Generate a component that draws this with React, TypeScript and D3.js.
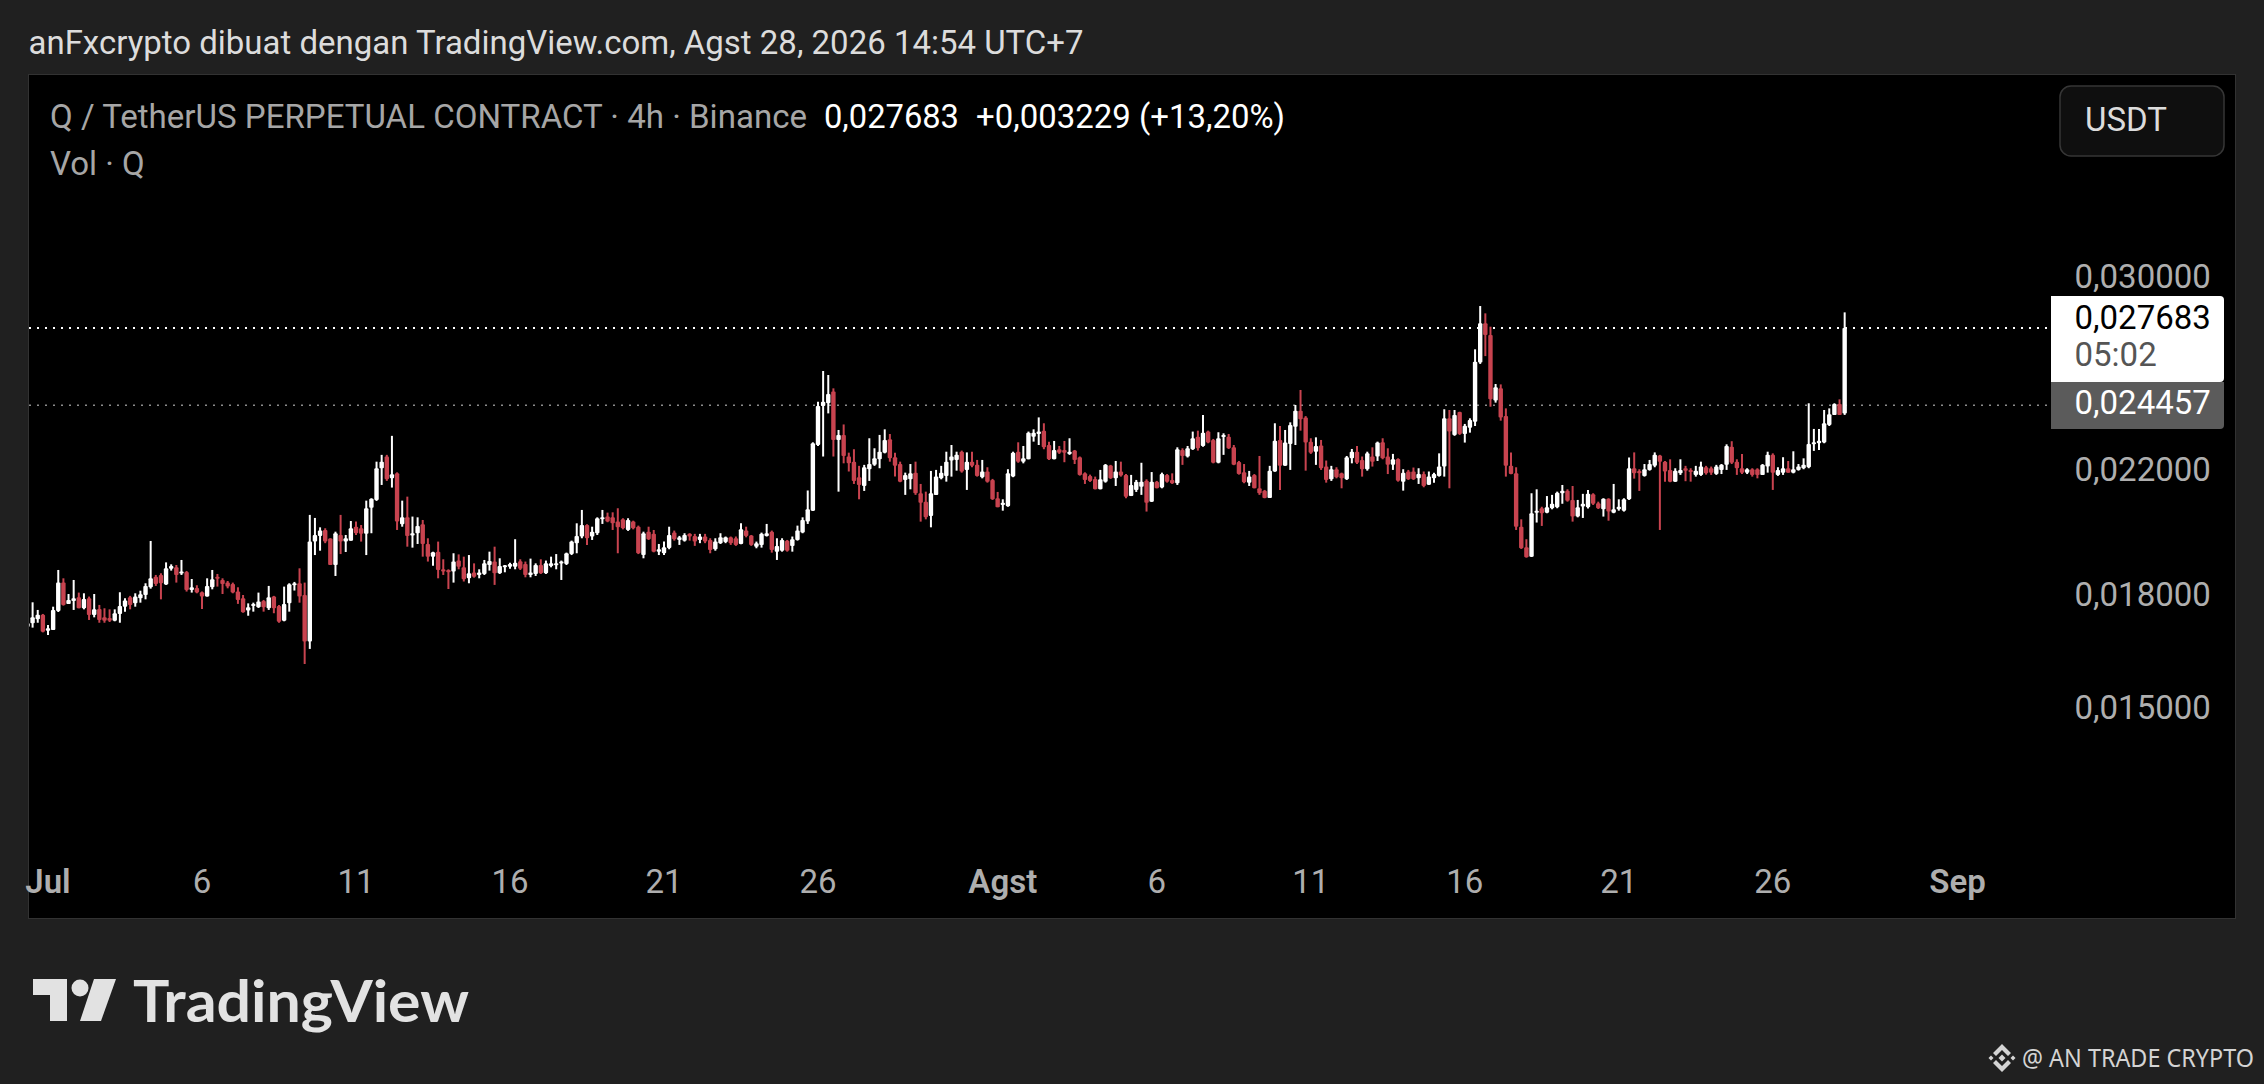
import React from "react";
import * as d3 from "d3";

// Prices are in millionths of a USDT; index 0 of each list is 4 candles before 1 July 00:00.
const PRICE_UNIT = 1e-6;
const FIRST_CANDLE_OFFSET = -4;
const CANDLES_PER_DAY = 6;

const directions =
  "UUUDUUUDUU" + "DUDUDDDUUU" + "DUUUUDDUUD" + "UDUDDUUDDD" + "DDDUUUDUDD" + "UUUDDUUUDD" + "UDUUDDUUUU" +
  "DUDUDUUDDU" + "DDDUDDUDUU" + "UDUUUUDDUU" + "DUUUUUUUUD" + "UUUDDDDUDD" + "UDDUUUDUUD" + "DUDDUUUDDU" +
  "DDUUUDUUDU" + "UUUUUUUDUD" + "DDDUUUUUDD" + "DUUDDDUUUU" + "UUDUDDUDDD" + "UUUDUUUUDD" + "UDDUDDDDDU" +
  "UDUDDUUUDU" + "DUDDUDUUDU" + "DDUUDDDDUD" + "DDUUDUUUDD" + "DUDDUDDUUD" + "DUDUDDUDUD" + "DUDUUUUDUD" +
  "UUUUDDUDDD" + "DDDUUDUUUU" + "DDUUUDDUDU" + "UUUDDUUUDD" + "DUUDDUUDDU" + "UUDDDUDDUU" + "DUUDUUUUUU" + "UUUDU";

const highs = [
  17280,17825,17608,17495,17190,17700,18775,18525,18065,18476,
  18105,18085,17990,18065,17750,17655,17625,17625,18115,17940,
  18010,18085,18160,18378,19670,18625,18675,19005,18945,18925,
  19079,18745,18505,18320,18135,18525,18775,18655,18525,18445,
  18398,18260,18035,17795,17815,18105,17893,18300,18010,17750,
  18280,18378,18418,18825,18398,20510,20410,20105,20075,19755,
  19965,20510,19860,20310,20290,20180,20985,21065,22340,22585,
  22585,23285,21960,20985,21120,20455,20430,20344,19755,19335,
  19650,19100,18795,19285,19250,19180,19230,18975,18795,19079,
  19335,19490,19130,18925,18995,19725,19100,19030,19120,18975,
  19100,19060,19180,19260,19060,19305,19680,20235,20674,20205,
  20125,20430,20674,20585,20595,20730,20400,20400,20320,20160,
  19965,20125,20020,19575,19650,20125,20000,19830,19915,19915,
  19895,19895,19895,19755,19755,19915,19810,19810,19810,20235,
  20125,19860,19650,19935,20215,20000,19755,19755,19702,19810,
  20160,20430,21330,23045,24600,25840,25675,25130,23506,23715,
  22665,22790,22190,22225,23195,22825,23320,23530,23355,22665,
  22340,21950,22255,22340,21555,21290,22010,22046,22190,22700,
  22945,22700,22740,22675,22700,22402,22402,22140,21730,21280,
  21030,22070,22700,23045,22910,23445,23530,23985,23760,23070,
  23095,22910,23095,23195,22764,22525,21960,21880,21810,22046,
  22255,22225,22365,22340,21900,21870,21694,22300,21715,21970,
  21660,21950,21900,21925,22860,22825,22910,23445,23480,24080,
  23480,23170,23420,23380,23355,22945,22365,22255,22010,21900,
  22545,21349,22190,23760,23660,23506,23795,24470,25065,24035,
  23195,23230,23132,22380,22190,22140,21950,22545,22800,22910,
  22525,22700,22860,23070,23195,22825,22620,22460,22070,22046,
  22130,22105,21990,21990,21950,22640,24300,24272,24272,24205,
  23735,23950,26755,28680,28345,27745,25305,25290,24335,22675,
  22140,20365,19725,21235,21370,20780,21140,21180,21290,21520,
  21370,21485,21009,21215,21349,21235,20950,21065,21065,21555,
  21030,21065,22490,22675,22070,22255,22402,22675,22585,22365,
  22425,22105,22425,22190,22105,22190,22340,22190,22165,22225,
  22255,22970,23085,22425,22620,22105,22105,22105,22255,22700,
  22640,22140,22500,22365,22715,22255,22460,24535,23545,23545,
  24272,24335,24535,24690,28390,
];

const bodyTops = [
  17235,17400,17475,17475,17095,17608,18398,18398,17893,17940,
  17970,17920,17940,17625,17635,17400,17380,17515,17720,17875,
  17970,17990,18055,18300,18525,18575,18625,18825,18895,18855,
  18725,18715,18260,18240,18115,18300,18495,18575,18476,18398,
  18360,18135,17940,17685,17780,17845,17865,17970,17990,17720,
  17780,18350,18378,18378,18035,19650,19860,20000,20020,19745,
  19915,19860,19755,20075,20125,20075,20730,21045,22105,22340,
  22525,21890,21925,20430,20430,19915,20150,20205,19575,19315,
  19335,18795,18775,19030,19060,18855,18675,18695,18695,18975,
  19050,19030,18895,18915,18955,18995,19040,18955,18695,18925,
  18925,18975,18975,18975,19030,19285,19650,19830,20180,20180,
  19965,20400,20430,20455,20430,20290,20365,20344,20290,20125,
  19915,19965,19895,19410,19470,19860,19935,19785,19860,19895,
  19830,19810,19810,19702,19650,19785,19785,19785,19755,20040,
  20000,19840,19600,19895,19915,19965,19515,19702,19680,19725,
  20000,20344,20695,23010,24430,24600,24905,25000,23320,23320,
  22525,22340,21790,22140,22255,22460,22700,23132,23155,22500,
  22255,21870,21925,21950,21235,20950,21235,21810,21950,22340,
  22525,22585,22700,22340,22340,22225,21990,21990,21694,21065,
  20915,21925,22665,22700,22460,23405,23405,23445,23480,22945,
  22764,22790,22764,22700,22740,22500,21925,21835,21730,21715,
  22225,22200,21990,21990,21870,21520,21635,21635,21670,21635,
  21635,21900,21870,21694,22790,22764,22825,23195,23255,23405,
  23445,23132,23195,23320,23255,22860,22330,21960,21810,21870,
  21405,21325,22020,23105,23132,23035,23695,24245,24245,23985,
  23070,22910,22925,22165,22070,22070,21925,22500,22700,22700,
  22402,22640,22525,23035,23045,22525,22425,22440,21950,21990,
  21990,21900,21900,21810,21900,22165,23950,23950,24080,24190,
  23670,23886,26230,27895,27895,27380,25170,25130,24035,22190,
  21925,20125,19470,20565,20650,20730,20765,20880,21255,21325,
  21325,21009,20765,20880,21215,21200,20895,21045,21045,20695,
  20780,21030,22105,22105,22010,22070,22255,22585,22560,22340,
  22046,22020,22046,22105,22046,22020,22165,22140,22105,22165,
  22225,22910,22885,22340,22105,22070,22070,22070,22225,22585,
  22585,22046,22105,22105,22070,22165,22225,22985,23045,23105,
  23760,24110,24510,24510,27683,
];

const bodyBottoms = [
  17140,17235,17345,17005,17030,17050,17580,17750,17780,17865,
  17655,17655,17465,17465,17327,17308,17308,17308,17495,17700,
  17750,17795,17940,18035,18260,18360,18378,18340,18815,18625,
  18675,18182,18182,18105,17990,17990,18260,18525,18360,18280,
  18105,17893,17540,17590,17720,17685,17685,17655,17655,17280,
  17308,17795,18350,17990,16735,16735,19650,19830,19650,18925,
  18925,19650,19650,19680,19915,19895,19895,20750,21009,22105,
  21715,21750,20290,20205,19830,19840,19915,19575,19180,19180,
  18775,18725,18705,18725,18875,18495,18525,18575,18625,18655,
  18925,18675,18675,18875,18875,18875,18815,18625,18625,18655,
  18675,18675,18895,18915,18975,18955,19260,19600,19810,19755,
  19810,19915,20365,20290,20235,20105,20075,20020,20075,19285,
  19230,19725,19335,19335,19285,19450,19725,19702,19680,19810,
  19650,19702,19650,19388,19410,19600,19640,19600,19545,19575,
  19830,19545,19490,19545,19830,19388,19335,19365,19365,19515,
  19702,19935,20290,20650,22945,24430,24535,23132,23132,22545,
  22280,21660,21520,21485,22070,22225,22425,22665,22460,22190,
  21635,21694,21715,21235,20915,20430,20475,21180,21750,21835,
  22380,22402,21990,22046,22190,21835,21790,21635,21030,20765,
  20835,20800,21810,22340,22340,22425,23255,23355,22860,22425,
  22425,22665,22665,22620,22402,21870,21694,21660,21370,21370,
  21635,21750,21750,21845,21120,21140,21349,21460,20915,20950,
  21405,21430,21635,21580,21580,22545,22525,22790,22825,22910,
  23035,22300,22300,23285,22825,22225,21900,21615,21600,21405,
  21235,21075,21075,21990,22190,22190,22985,23630,23910,23035,
  22665,22700,22105,21694,21715,21790,21750,21715,22460,22300,
  22070,22070,22340,22525,22460,22225,22225,21670,21635,21715,
  21715,21750,21485,21530,21750,21835,22165,23445,23320,23355,
  23355,23590,23820,26190,27380,24690,24640,23985,22190,21900,
  20125,19440,19160,19180,20585,20565,20585,20730,20765,21235,
  20985,20455,20455,20790,20765,20880,20730,20695,20620,20585,
  20695,20650,21030,21925,21925,21835,22046,22190,22340,21990,
  21635,21635,21925,22020,21990,21870,21870,21925,21950,21900,
  22046,22225,22300,22105,21950,21950,21870,21870,21870,22165,
  21950,21870,21950,21950,21950,22046,22105,22140,23010,23010,
  23035,23695,24080,24080,24140,
];

const lows = [
  17005,17115,17250,16985,16915,17050,17550,17730,17780,17608,
  17655,17625,17327,17400,17250,17250,17270,17290,17250,17560,
  17625,17700,17815,17910,18220,18300,17910,18330,18755,18398,
  18625,18135,18105,18085,17635,17990,18200,18280,18065,18230,
  18085,17780,17530,17445,17560,17665,17560,17608,17515,17250,
  17290,17560,18165,17815,16145,16540,19230,19365,19600,18925,
  18595,19260,19325,19680,19860,19650,19230,19915,20975,21520,
  21660,21430,20020,20125,19490,19460,19575,19180,19030,18905,
  18525,18625,18210,18398,18795,18430,18378,18545,18525,18625,
  18755,18330,18655,18705,18815,18795,18775,18555,18555,18595,
  18655,18655,18855,18795,18476,18925,19230,19285,19755,19545,
  19702,19860,20215,20270,20020,19285,20040,19990,20040,19260,
  19130,19702,19315,19230,19230,19410,19680,19545,19650,19680,
  19515,19600,19600,19285,19365,19575,19600,19545,19515,19565,
  19785,19515,19440,19460,19810,19305,19079,19335,19335,19335,
  19680,19915,20215,20640,22910,22525,24140,22525,21290,22280,
  21990,21555,21030,21315,21660,22190,22105,22640,22340,21810,
  21615,21180,21370,21180,20290,20365,20105,21180,21715,21635,
  21810,22020,21950,21349,22140,21810,21750,21600,21009,20765,
  20650,20780,21790,22300,22280,22425,23070,22945,22790,22402,
  22425,22620,22320,22585,22255,21845,21555,21625,21370,21370,
  21600,21730,21485,21810,21065,21140,21280,21180,20620,20940,
  21405,21405,21600,21555,21520,22225,22490,22764,22740,22885,
  23010,22280,22280,22585,22800,22215,21880,21580,21485,21405,
  21180,21065,21075,21980,21349,22190,22046,22945,23480,22020,
  22620,22225,22046,21600,21660,21750,21405,21694,22280,22255,
  21810,22020,22165,22365,22425,21900,22046,21635,21325,21694,
  21694,21555,21440,21520,21600,21810,21810,21405,23285,23320,
  23035,23405,23655,26135,26465,24400,24560,23860,21810,21890,
  20020,19420,19150,19170,20260,20150,20565,20695,20730,20880,
  20950,20290,20430,20410,20720,20840,20705,20455,20320,20565,
  20650,20620,21009,21740,21315,21810,22020,22140,20020,21635,
  21615,21625,21870,21650,21635,21810,21835,21880,21870,21870,
  21900,22046,22255,21870,21900,21900,21810,21750,21870,21950,
  21349,21835,21870,21950,21925,22020,22070,22105,22730,22764,
  23010,23655,24080,24080,24080,
];

const priceTicks = [0.03, 0.022, 0.018, 0.015];
const lastPrice = 0.027683;
const prevPrice = 0.024457;
const timeTicks: [string, number, boolean][] = [
  ["Jul", 0, true], ["6", 5, false], ["11", 10, false], ["16", 15, false], ["21", 20, false], ["26", 25, false],
  ["Agst", 31, true], ["6", 36, false], ["11", 41, false], ["16", 46, false], ["21", 51, false], ["26", 56, false],
  ["Sep", 62, true],
];

const headerText = "anFxcrypto dibuat dengan TradingView.com, Agst 28, 2026 14:54 UTC+7";
const titleText = "Q / TetherUS PERPETUAL CONTRACT · 4h · Binance";
const lastText = "0,027683";
const changeText = "+0,003229 (+13,20%)";
const volText = "Vol · Q";
const currencyText = "USDT";
const countdownText = "05:02";
const prevText = "0,024457";
const brandText = "TradingView";
const watermarkText = "@ AN TRADE CRYPTO";

const PAGE = "#202020";
const PANEL = { left: 29, top: 75, right: 2235, bottom: 918 };
const UP = "#ffffff";
const DOWN = "#c8434f";
const AXIS = "#aeaeae";
const FONT = "Roboto, sans-serif";

const x = d3.scaleLinear().domain([0, 62]).range([48, 1957.6]);
const y = d3.scaleLog().domain([0.03, 0.015]).range([278, 709.8]);
const fmt = (v: number) => v.toFixed(6).replace(".", ",");

export default function App() {
  const candles = highs.map((h, i) => ({
    cx: x((i + FIRST_CANDLE_OFFSET) / CANDLES_PER_DAY),
    hy: y(h * PRICE_UNIT),
    ly: y(lows[i] * PRICE_UNIT),
    ty: y(bodyTops[i] * PRICE_UNIT),
    by: y(bodyBottoms[i] * PRICE_UNIT),
    color: directions[i] === "U" ? UP : DOWN,
  }));
  const lastY = y(lastPrice);
  const prevY = y(prevPrice);
  return (
    <svg
      width={2264}
      height={1084}
      viewBox="0 0 2264 1084"
      style={{ position: "fixed", left: 0, top: 0, display: "block", background: PAGE }}
      fontFamily={FONT}
    >
      <defs>
        <clipPath id="plot">
          <rect x={PANEL.left} y={PANEL.top} width={PANEL.right - PANEL.left} height={PANEL.bottom - PANEL.top} />
        </clipPath>
      </defs>
      <rect width={2264} height={1084} fill={PAGE} />
      <text x={28.5} y={54} fontSize={33} fill="#dcdcdc" textLength={1055} lengthAdjust="spacingAndGlyphs">{headerText}</text>
      <rect
        x={PANEL.left - 0.5}
        y={PANEL.top - 0.5}
        width={PANEL.right - PANEL.left + 1}
        height={PANEL.bottom - PANEL.top + 1}
        fill="#000"
        stroke="#323232"
        strokeWidth={1}
      />

      <g fontSize={33}>
        <text x={50} y={128} fill="#a6a6a6" textLength={757} lengthAdjust="spacingAndGlyphs">{titleText}</text>
        <text x={824} y={128} fill="#fff" textLength={135} lengthAdjust="spacingAndGlyphs">{lastText}</text>
        <text x={976} y={128} fill="#fff" textLength={309} lengthAdjust="spacingAndGlyphs">{changeText}</text>
        <text x={50} y={175} fill="#a6a6a6">{volText}</text>
      </g>

      <rect x={2060} y={86} width={164} height={70} rx={11} fill="#0f0f0f" stroke="#363636" strokeWidth={1.5} />
      <text x={2085} y={131} fontSize={33} fill="#dcdcdc">{currencyText}</text>

      <g stroke="#fff" strokeWidth={2} strokeDasharray="2 6">
        <line x1={PANEL.left} x2={2048} y1={lastY} y2={lastY} />
      </g>
      <g stroke="#8c8c8c" strokeWidth={1.6} strokeDasharray="2 6">
        <line x1={PANEL.left} x2={2048} y1={prevY} y2={prevY} />
      </g>

      <g clipPath="url(#plot)">
        {candles.map((c, i) => (
          <g key={i} fill={c.color}>
            <line x1={c.cx} x2={c.cx} y1={c.hy} y2={c.ly} stroke={c.color} strokeWidth={2} />
            <rect x={c.cx - 2.2} y={c.ty} width={4.4} height={Math.max(c.by - c.ty, 2)} rx={1} />
          </g>
        ))}
      </g>

      <g fontSize={33} fill={AXIS}>
        {priceTicks.map((p) => (
          <text key={p} x={2074.5} y={y(p) + 9.5}>{fmt(p)}</text>
        ))}
      </g>

      <path d={`M2051 296 H2220 a4 4 0 0 1 4 4 V378 a4 4 0 0 1 -4 4 H2051 Z`} fill="#fff" />
      <text x={2074.5} y={328.5} fontSize={33} fill="#000">{fmt(lastPrice)}</text>
      <text x={2074.5} y={366} fontSize={33} fill="#555">{countdownText}</text>
      <path d={`M2051 382 H2224 V425 a4 4 0 0 1 -4 4 H2051 Z`} fill="#5b5b5b" />
      <text x={2074.5} y={413.5} fontSize={33} fill="#fff">{prevText}</text>

      <g fontSize={33} textAnchor="middle" fill={AXIS}>
        {timeTicks.map(([label, day, major], i) => (
          <text key={i} x={x(day)} y={892.5} fontWeight={major ? 600 : 400}>{label}</text>
        ))}
      </g>

      <g fill="#e2e2e2">
        <path d="M33 979 H67 V1021 H50 V995 H33 Z" />
        <circle cx={80} cy={988} r={8.5} />
        <path d="M94 979 H116 L101 1021 H80 Z" />
        <text x={133} y={1022} fontFamily="Lato, sans-serif" fontWeight={700} fontSize={58} textLength={336} lengthAdjust="spacingAndGlyphs">{brandText}</text>
      </g>

      <g fill="#d4d4d4" transform="translate(2002 1058)">
        <path d="M0 -14 L9 -5 L6 -2 L0 -8 L-6 -2 L-9 -5 Z" />
        <path d="M0 14 L9 5 L6 2 L0 8 L-6 2 L-9 5 Z" />
        <path d="M0 -3.5 L3.5 0 L0 3.5 L-3.5 0 Z" />
        <path d="M-11 -2.5 L-8.5 0 L-11 2.5 L-13.5 0 Z" />
        <path d="M11 -2.5 L13.5 0 L11 2.5 L8.5 0 Z" />
      </g>
      <text x={2022} y={1067} fontFamily="'Noto Sans', sans-serif" fontSize={24.5} fill="#d4d4d4" textLength={232} lengthAdjust="spacingAndGlyphs">{watermarkText}</text>
    </svg>
  );
}
